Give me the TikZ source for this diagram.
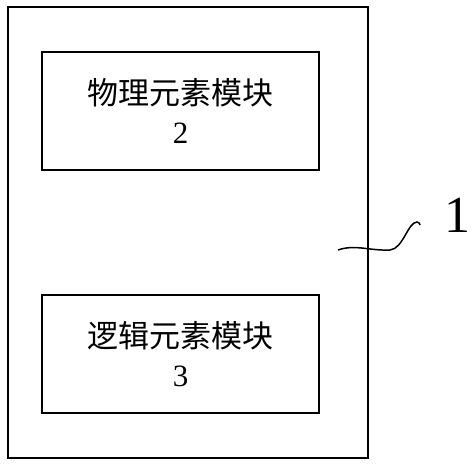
\documentclass[tikz,border=0pt]{standalone}
\usepackage{fontspec}
\setmainfont{Liberation Serif}
\newfontfamily\cjk{Noto Sans CJK SC}

\begin{document}
\begin{tikzpicture}[x=1pt,y=-1pt,
    module/.style ={rectangle, draw, line width=1.2pt, minimum width=277pt, minimum height=118pt, align=center, font=\fontsize{31}{39}\selectfont}]
   \useasboundingbox (0,0) rectangle (474,467);

   \node[draw, line width=1.2pt, minimum width=360pt, minimum height=451pt] (sys) at (188,232.5) {};

   \node[module] (phy) at (180.5,111) {{\cjk 物理元素模块}\\2};
   \node[module] (logic) at (180.5,354) {{\cjk 逻辑元素模块}\\3};

   \node (num) at (457,215) {\fontsize{52}{52}\selectfont 1};

   \coordinate (tail) at (338,250);
   \draw[line width=1.5pt] (tail) .. controls (355,244) and (370,251) .. (390,250)
       .. controls (403,249) and (408,222) .. (417,222)
       .. controls (419,222) and (420,224) .. (420,225);

 \end{tikzpicture}
\end{document}
